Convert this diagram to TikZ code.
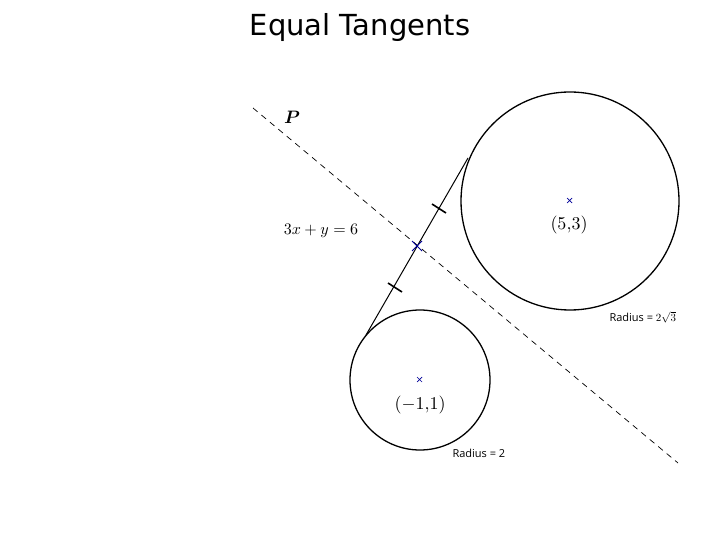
\documentclass[tikz,border=0pt]{standalone}
\usepackage{amsmath,bm}
\usepackage{fontspec}
\usetikzlibrary{calc}
\newfontfamily\titlefont{DejaVu Sans}
\newfontfamily\labfont{Open Sans}
\begin{document}
\begin{tikzpicture}[x=1pt,y=-1pt,
  circ/.style={draw=black,line width=1.3pt},
  cross/.style={blue!60!black,line width=0.9pt},
  tick/.style={line width=1.6pt},
  lab/.style={font=\labfont\fontsize{11}{13}\selectfont}]
\useasboundingbox[fill=white] (0,0) rectangle (720,540);
\node[font=\titlefont\fontsize{29}{34}\selectfont] (title) at (360,28) {Equal Tangents};
\draw[circ] (570,201) circle (109);
\draw[circ] (420,380) circle (70);
\coordinate (d1) at (253,108);
\coordinate (d2) at (678,463);
\draw[dashed,line width=0.7pt,dash pattern=on 6pt off 5pt] (d1) -- (d2);
\coordinate (t1) at (366,335);
\coordinate (t2) at (468,158);
\draw[line width=1pt] (t1) -- (t2);
\node[scale=1.8,transform shape] (P) at (292,117) {$\bm{P}$};
\node[scale=1.6,transform shape] (eq) at (321,231) {$3x+y=6$};
\node[scale=1.8,transform shape] (c1) at (569,225) {$(5{,}3)$};
\node[scale=1.8,transform shape] (c2) at (420,405) {$(-1{,}1)$};
\node[lab,anchor=west] (r1) at (606,317) {Radius = $2\sqrt{3}$};
\node[lab,anchor=west] (r2) at (449,453) {Radius = 2};
\coordinate (x1) at (417,246);
\draw[cross] ($(x1)+(-5,-5)$) -- ++(10,10) ($(x1)+(-5,5)$) -- ++(10,-10);
\draw[cross,line width=0.7pt] (567,198) -- ++(5,5) (567,203) -- ++(5,-5);
\draw[cross,line width=0.7pt] (417,377) -- ++(5,5) (417,382) -- ++(5,-5);
\draw[tick] (432,204) -- (446,213);
\draw[tick] (388,283) -- (402,292);
\end{tikzpicture}
\end{document}
